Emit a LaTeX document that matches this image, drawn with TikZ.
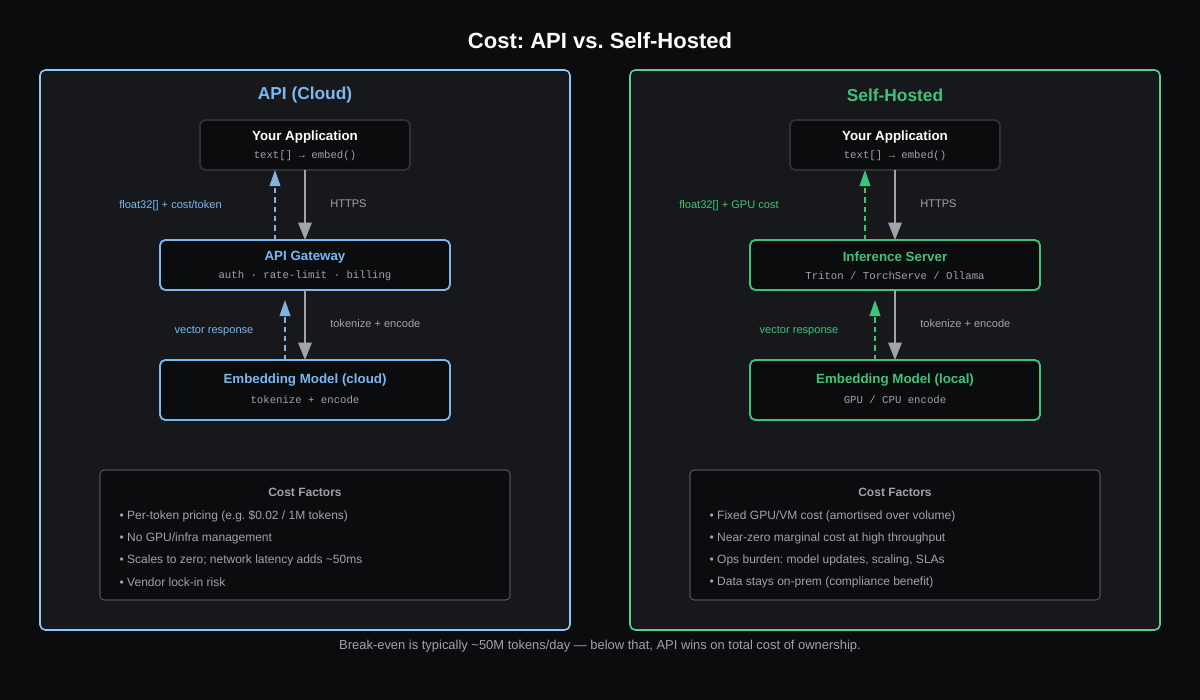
\documentclass[tikz,border=0pt]{standalone}
\usepackage{fontspec}
\setmainfont{Liberation Sans}
\newfontfamily\codefont{Liberation Mono}
\usetikzlibrary{arrows.meta}
\frenchspacing
\definecolor{bgdark}{HTML}{0B0C0E}
\definecolor{panelbg}{HTML}{16181C}
\definecolor{cloudblue}{HTML}{79B8F0}
\definecolor{localgreen}{HTML}{3EC47A}
\definecolor{softgray}{HTML}{A0A4AA}
\definecolor{edgegray}{HTML}{2E3136}
\begin{document}
\begin{tikzpicture}[x=0.75pt,y=-0.75pt]
\tikzstyle{panel} = [rounded corners=4pt, fill=panelbg, line width=1.2pt]
\tikzstyle{box} = [rounded corners=4pt, fill=bgdark, line width=1.4pt]
\tikzstyle{boxtitle} = [font=\bfseries\fontsize{10}{12}\selectfont]
\tikzstyle{boxcode} = [text=softgray, font=\codefont\fontsize{8}{10}\selectfont]
\tikzstyle{lbl} = [font=\fontsize{8.3}{10}\selectfont, inner sep=0pt]
\tikzstyle{bullet} = [anchor=west, text=softgray, font=\fontsize{9}{11}\selectfont]
\tikzstyle{req} = [draw=softgray, line width=1.3pt, -{Triangle[width=10pt,length=13pt]}]
\tikzstyle{resp} = [line width=1.3pt, dashed, dash pattern=on 4pt off 3pt, -{Triangle[width=8pt,length=12pt]}]
\fill[bgdark] (0,0) rectangle (1200,700);
\node[white, font=\bfseries\fontsize{16.5}{20}\selectfont] (title) at (600,41) {Cost: API vs. Self-Hosted};

% left panel
\draw[panel, draw=cloudblue!80] (40,70) rectangle (570,630);
\node[text=cloudblue, font=\bfseries\fontsize{13}{15}\selectfont] (ltitle) at (305,95) {API (Cloud)};
\draw[box, draw=edgegray] (200,120) rectangle (410,170);
\node[boxtitle, white] (lapp) at (305,137) {Your Application};
\node[boxcode] (lappc) at (305,156) {text[] → embed()};
\coordinate (lappb) at (305,170); \coordinate (lappd) at (275,170);
\draw[box, draw=cloudblue] (160,240) rectangle (450,290);
\node[boxtitle, text=cloudblue] (lgw) at (305,257) {API Gateway};
\node[boxcode] (lgwc) at (305,276) {auth · rate-limit · billing};
\coordinate (lgwt) at (305,240); \coordinate (lgwd) at (275,240);
\coordinate (lgwb) at (305,290); \coordinate (lgwu) at (285,300);
\draw[box, draw=cloudblue] (160,360) rectangle (450,420);
\node[boxtitle, text=cloudblue] (lem) at (305,380) {Embedding Model (cloud)};
\node[boxcode] (lemc) at (305,400) {tokenize + encode};
\coordinate (lemt) at (305,360); \coordinate (lemd) at (285,360);
\draw[req] (lappb) -- (lgwt);
\draw[resp, draw=cloudblue!70!softgray] (lgwd) -- (lappd);
\draw[req] (lgwb) -- (lemt);
\draw[resp, draw=cloudblue!70!softgray] (lemd) -- (lgwu);
\node[lbl, text=cloudblue, anchor=east] (lret1) at (222,206) {float32[] + cost/token};
\node[lbl, text=softgray, anchor=west] (lhttps) at (330,204) {HTTPS};
\node[lbl, text=cloudblue] (lret2) at (214,331) {vector response};
\node[lbl, text=softgray, anchor=west] (ltok) at (330,324) {tokenize + encode};
\draw[rounded corners=3pt, fill=bgdark, draw=edgegray!60] (100,470) rectangle (510,600);
\node[text=softgray, font=\bfseries\fontsize{9}{11}\selectfont] (lcf) at (305,492) {Cost Factors};
\node[bullet] (lb1) at (115,516) {• Per-token pricing (e.g. \$0.02 / 1M tokens)};
\node[bullet] (lb2) at (115,538) {• No GPU/infra management};
\node[bullet] (lb3) at (115,560) {• Scales to zero; network latency adds \textasciitilde50ms};
\node[bullet] (lb4) at (115,582) {• Vendor lock-in risk};

% right panel
\draw[panel, draw=localgreen!85] (630,70) rectangle (1160,630);
\node[text=localgreen, font=\bfseries\fontsize{13}{15}\selectfont] (rtitle) at (895,95) {Self-Hosted};
\draw[box, draw=edgegray] (790,120) rectangle (1000,170);
\node[boxtitle, white] (rapp) at (895,137) {Your Application};
\node[boxcode] (rappc) at (895,156) {text[] → embed()};
\coordinate (rappb) at (895,170); \coordinate (rappd) at (865,170);
\draw[box, draw=localgreen] (750,240) rectangle (1040,290);
\node[boxtitle, text=localgreen] (rsrv) at (895,257) {Inference Server};
\node[boxcode] (rsrvc) at (895,276) {Triton / TorchServe / Ollama};
\coordinate (rsrvt) at (895,240); \coordinate (rsrvd) at (865,240);
\coordinate (rsrvb) at (895,290); \coordinate (rsrvu) at (875,300);
\draw[box, draw=localgreen] (750,360) rectangle (1040,420);
\node[boxtitle, text=localgreen] (rem) at (895,380) {Embedding Model (local)};
\node[boxcode] (remc) at (895,400) {GPU / CPU encode};
\coordinate (remt) at (895,360); \coordinate (remd) at (875,360);
\draw[req] (rappb) -- (rsrvt);
\draw[resp, draw=localgreen] (rsrvd) -- (rappd);
\draw[req] (rsrvb) -- (remt);
\draw[resp, draw=localgreen] (remd) -- (rsrvu);
\node[lbl, text=localgreen, anchor=east] (rret1) at (779,206) {float32[] + GPU cost};
\node[lbl, text=softgray, anchor=west] (rhttps) at (920,204) {HTTPS};
\node[lbl, text=localgreen] (rret2) at (799,331) {vector response};
\node[lbl, text=softgray, anchor=west] (rtok) at (920,324) {tokenize + encode};
\draw[rounded corners=3pt, fill=bgdark, draw=edgegray!60] (690,470) rectangle (1100,600);
\node[text=softgray, font=\bfseries\fontsize{9}{11}\selectfont] (rcf) at (895,492) {Cost Factors};
\node[bullet] (rb1) at (705,516) {• Fixed GPU/VM cost (amortised over volume)};
\node[bullet] (rb2) at (705,538) {• Near-zero marginal cost at high throughput};
\node[bullet] (rb3) at (705,560) {• Ops burden: model updates, scaling, SLAs};
\node[bullet] (rb4) at (705,582) {• Data stays on-prem (compliance benefit)};

\node[text=softgray, font=\fontsize{9.7}{11}\selectfont] (note) at (600,646) {Break-even is typically \textasciitilde50M tokens/day — below that, API wins on total cost of ownership.};
\end{tikzpicture}
\end{document}
